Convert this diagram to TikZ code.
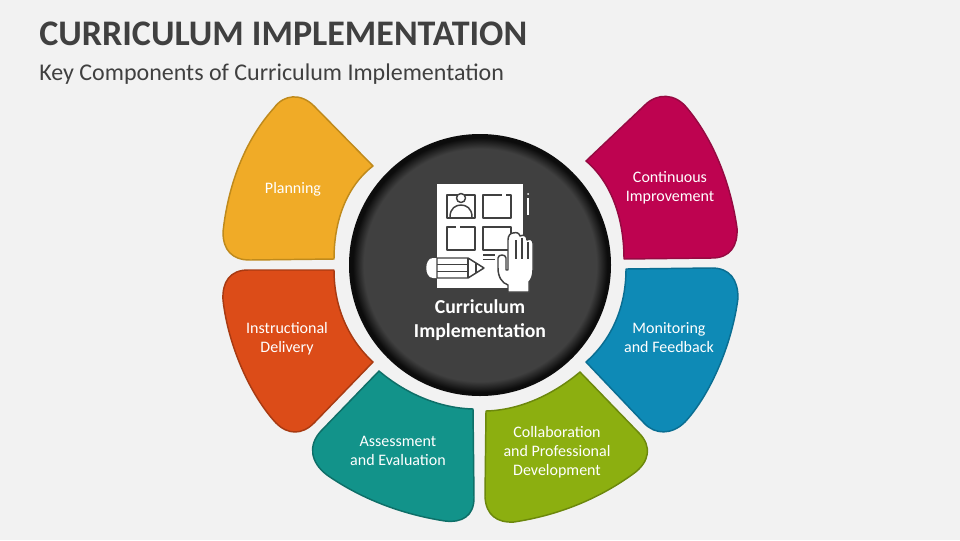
\documentclass[tikz,border=0pt]{standalone}
\usepackage{fontspec}
\setmainfont{Carlito}
\usetikzlibrary{positioning,shadings}
\definecolor{pagebg}{HTML}{F2F2F2}
\definecolor{inktitle}{HTML}{404040}
\definecolor{planfill}{HTML}{F0AB27}
\definecolor{planline}{HTML}{BF8A1C}
\definecolor{contfill}{HTML}{BE0350}
\definecolor{contline}{HTML}{960A42}
\definecolor{instfill}{HTML}{DC4C18}
\definecolor{instline}{HTML}{A83A12}
\definecolor{monifill}{HTML}{0E8AB6}
\definecolor{moniline}{HTML}{0A6E92}
\definecolor{assefill}{HTML}{12938A}
\definecolor{asseline}{HTML}{0E6F68}
\definecolor{collfill}{HTML}{8CAF10}
\definecolor{collline}{HTML}{6C880C}
\definecolor{discedge}{HTML}{0C0C0C}
\pgfdeclareradialshading{discshade}{\pgfpointorigin}{color(0bp)=(inktitle); color(22.2bp)=(inktitle); color(24.3bp)=(discedge); color(50bp)=(discedge)}
\tikzset{
  petal/.style={line width=1.1pt,line join=round},
  lbl/.style={text=white,font=\fontsize{12}{14.2}\selectfont,align=center,inner sep=0pt},
  icon/.style={draw=inktitle,line width=1.1pt,line join=round},
  iconw/.style={fill=white,draw=inktitle,line width=1.1pt,line join=round},
}
\begin{document}
\begin{tikzpicture}[x=0.75pt,y=-0.75pt]
\useasboundingbox (0,0) rectangle (960,540);
\fill[pagebg] (0,0) rectangle (960,540);
% heading
\node[anchor=west,inner sep=0pt,text=inktitle,font=\bfseries\fontsize{27}{32}\selectfont] (title) at (39,34) {CURRICULUM IMPLEMENTATION};
\node[anchor=west,inner sep=0pt,text=inktitle,font=\fontsize{18}{22}\selectfont] (subtitle) at (39,74) {Key Components of Curriculum Implementation};
% petals
\draw[petal,fill=planfill,draw=planline] (373,166) .. controls (347,186) and (334,220) .. (334,259)
  -- (250,260) .. controls (232,260) and (223,250) .. (223,232)
  .. controls (228,185) and (245,140) .. (274,108) .. controls (284,94) and (301,93) .. (314,106) -- cycle;
\draw[petal,fill=contfill,draw=contline] (586,161) .. controls (611,182) and (624,218) .. (624,259)
  -- (712,258) .. controls (730,258) and (738,246) .. (737,228)
  .. controls (730,180) and (712,138) .. (687,108) .. controls (675,93) and (657,93) .. (645,105) -- cycle;
\draw[petal,fill=instfill,draw=instline] (373,362) .. controls (349,340) and (334,308) .. (334,270)
  -- (248,270) .. controls (230,270) and (222,282) .. (223,300)
  .. controls (228,345) and (250,395) .. (276,423) .. controls (288,435) and (302,435) .. (314,423) -- cycle;
\draw[petal,fill=monifill,draw=moniline] (586,362) .. controls (611,340) and (626,308) .. (626,269)
  -- (712,268) .. controls (730,268) and (738,280) .. (738,298)
  .. controls (732,345) and (710,395) .. (685,422) .. controls (672,435) and (655,435) .. (644,423) -- cycle;
\draw[petal,fill=assefill,draw=asseline] (379,371) .. controls (405,393) and (438,408) .. (473,409)
  -- (474,498) .. controls (474,516) and (462,523) .. (445,521)
  .. controls (400,514) and (360,498) .. (327,475) .. controls (310,462) and (308,445) .. (321,431) -- cycle;
\draw[petal,fill=collfill,draw=collline] (580,372) .. controls (555,393) and (522,410) .. (486,411)
  -- (485,497) .. controls (486,515) and (497,523) .. (514,522)
  .. controls (560,515) and (600,498) .. (633,474) .. controls (650,462) and (652,446) .. (639,433) -- cycle;
% centre disc
\shade[shading=discshade] (480,265) circle (131);
% sheet
\fill[white] (437,184) rectangle (523,288);
\draw[icon] (447,195) rectangle (475,218);
\draw[icon] (483,195) rectangle (511,218);
\draw[icon] (447,227) rectangle (475,250);
\draw[icon] (483,227) rectangle (511,250);
\fill[white] (502,193) rectangle (506,197);
\fill[white] (456,225) rectangle (460,229);
\draw[icon] (450,217) .. controls (450,208) and (456,205) .. (461,205) .. controls (466,205) and (472,208) .. (472,217);
\draw[iconw] (461,198) circle (4.5);
\draw[white,line width=1pt] (528,198) -- (528,215);
\fill[white] (528,194) circle (1);
\draw[inktitle,line width=0.9pt] (483,255) -- (495,255) (483,259.5) -- (495,259.5);
% pencil
\fill[white] (437,258) -- (433,258) .. controls (424,258) and (424,278) .. (433,278) -- (437,278) -- cycle;
\draw[icon] (437,258) -- (468,258) -- (484,268) -- (468,278) -- (437,278) -- cycle;
\draw[icon] (468,258) -- (468,278) (437,264.5) -- (468,264.5) (437,271.5) -- (468,271.5) (476,263) -- (476,273);
% hand
\draw[iconw] (529,282) -- (529,292) -- (508,292) -- (508,285) .. controls (502,283) and (498,277) .. (498,268)
  -- (498,258) .. controls (498,254) and (506,254) .. (506,258) -- (506,270)
  -- (508,270) -- (508,240) .. controls (508,235) and (511,233) .. (513,233)
  .. controls (517,232) and (519,233) .. (520,236)
  .. controls (524,234) and (527,236) .. (527,240)
  .. controls (530,238) and (533,240) .. (533,243)
  -- (533,270) .. controls (533,276) and (531,280) .. (529,282) -- cycle;
\draw[inktitle,line width=0.9pt] (516,240) -- (516,259) (522,238) -- (522,259) (528,242) -- (528,259);
% labels
\node[text=white,inner sep=0pt,align=center,font=\bfseries\fontsize{14.8}{18}\selectfont] (core) at (480,320.5) {Curriculum\\Implementation};
\node[lbl] (planning) at (293,189) {Planning};
\node[lbl] (improve) at (670,188) {Continuous\\Improvement};
\node[lbl] (delivery) at (287,339) {Instructional\\Delivery};
\node[lbl] (monitor) at (669,338) {Monitoring\\and Feedback};
\node[lbl] (assess) at (398,451) {Assessment\\and Evaluation};
\node[lbl] (collab) at (557,452) {Collaboration\\and Professional\\Development};
\end{tikzpicture}
\end{document}
